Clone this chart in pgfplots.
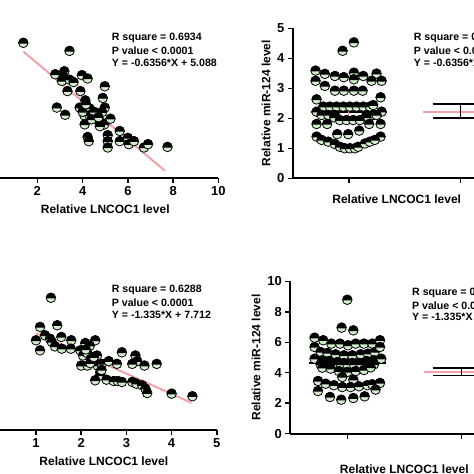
\documentclass[border=0pt]{standalone}
\usepackage{pgfplots}
\pgfplotsset{compat=1.18}
\usepackage{fontspec}
\setmainfont{Liberation Sans}
\definecolor{mkgreen}{HTML}{D2EDCC}
\definecolor{regpink}{HTML}{F2A3AA}
\pgfdeclareplotmark{hb}{%
  \pgfpathcircle{\pgfpointorigin}{\pgfplotmarksize}%
  \pgfsetfillcolor{mkgreen}\pgfusepath{fill}%
  \pgfpathmoveto{\pgfpoint{-\pgfplotmarksize}{-0.15\pgfplotmarksize}}%
  \pgfpatharc{190}{-10}{\pgfplotmarksize}%
  \pgfpathclose
  \pgfsetfillcolor{black}\pgfusepath{fill}%
  \pgfsetlinewidth{0.8pt}%
  \pgfpathcircle{\pgfpointorigin}{\pgfplotmarksize}%
  \pgfusepath{stroke}%
}
\pgfplotsset{
  panel/.style={
    scale only axis, enlargelimits=false, clip=false,
    axis x line*=bottom, axis y line*=left,
    axis line style={line width=1.7pt, black},
    tick style={line width=1.5pt, black},
    tick align=outside, major tick length=5pt,
    minor tick num=0,
    ticklabel style={font=\fontsize{13}{15}\selectfont\bfseries},
    /pgf/number format/assume math mode=true,
    label style={font=\fontsize{12}{14}\selectfont\bfseries},
  },
  pts/.style={only marks, mark=hb, mark size=4.8pt},
}
\newcommand{\anno}[4]{%
  \node[anchor=west, inner sep=0pt, font=\fontsize{10.6}{12}\selectfont\bfseries] at (#1,#2) {R square = #3};
  \node[anchor=west, inner sep=0pt, font=\fontsize{10.6}{12}\selectfont\bfseries] at (#1,#2-12.3) {P value < 0.0001};
  \node[anchor=west, inner sep=0pt, font=\fontsize{10.6}{12}\selectfont\bfseries] at (#1,#2-24.3) {#4};
}
\begin{document}
\begin{tikzpicture}[x=1pt,y=1pt]
\useasboundingbox (0,0) rectangle (474,474);
\clip (0,0) rectangle (474,474);
\fill[white] (0,0) rectangle (474,474);

% ---------- top left ----------
\begin{axis}[panel, at={(-7.9pt,296.2pt)}, anchor=south west,
  width=226.3pt, height=150pt, xmin=0, xmax=10, ymin=0, ymax=5,
  xtick={0,2,4,6,8,10}, ytick={0,1,2,3,4,5},
  xlabel={Relative LNCOC1 level}, xlabel style={yshift=-2pt}]
\addplot[regpink, line width=2pt] coordinates {(1.38,4.211) (7.64,0.232)};
\addplot[pts] coordinates {
(1.38,4.5) (3.42,4.23) (2.79,3.45) (3.19,3.55) (3.16,3.38) (3.08,3.23) (3.42,3.27)
(3.6,3.19) (3.97,3.42) (4.22,3.31) (4.98,3.05) (3.33,2.89) (3.9,2.89) (4.89,2.66)
(4.12,2.58) (2.86,2.34) (3.23,2.1) (3.87,2.34) (4.16,2.38) (4.31,2.31) (4.08,2.08)
(4.31,2.08) (4.98,2.34) (4.86,2.19) (4.56,1.97) (4.79,1.86) (4.96,1.78) (5.23,1.97)
(4.09,1.78) (4.76,1.72) (4.22,1.36) (4.27,1.22) (5.11,1.42) (5.11,1.22) (5.11,1.01)
(5.64,1.56) (5.64,1.22) (6.0,1.33) (6.04,1.12) (6.27,1.22) (6.71,1.01) (6.89,1.12)
(7.75,1.03) (4.5,2.2) (4.4,1.95) (4.7,2.02) (4.0,2.2) (4.15,2.45)
};
\end{axis}
\anno{111.7}{435.7}{0.6934}{Y = -0.6356*X + 5.088}

% ---------- top right ----------
\begin{axis}[panel, at={(293pt,295.7pt)}, anchor=south west,
  width=223.4pt, height=150pt, xmin=0.5, xmax=2.5, ymin=0, ymax=5,
  xtick={1,2}, xticklabels={}, ytick={0,1,2,3,4,5},
  xlabel={Relative LNCOC1 level}, xlabel style={yshift=-1pt, xshift=-8pt},
  ylabel={Relative miR-124 level}, ylabel style={yshift=0pt}]
\addplot[pts] coordinates {
(1.045,4.53) (0.944,4.25) (0.702,3.59) (0.702,3.25) (0.785,3.48) (0.875,3.41)
(0.955,3.37) (1.045,3.52) (1.045,3.30) (1.129,3.41) (1.248,3.49) (1.203,3.25)
(1.293,3.25) (0.785,3.08) (0.875,2.92) (0.955,2.92) (1.045,2.92) (1.123,2.92)
(0.711,2.63) (1.284,2.70)
(0.771,2.39) (0.830,2.39) (0.890,2.39) (0.950,2.39) (1.009,2.39) (1.069,2.39) (1.129,2.39) (1.188,2.39)
(1.218,2.44) (0.711,2.22) (1.293,2.22)
(0.756,2.11) (0.816,2.11) (0.875,2.11) (1.158,2.11) (1.218,2.11) (1.248,2.11)
(0.869,2.03) (1.158,2.03)
(0.920,1.94) (0.979,1.94) (1.039,1.94) (1.098,1.94)
(0.711,1.81) (0.806,1.81) (1.182,1.81) (1.284,1.81)
(0.896,1.47) (0.994,1.47) (1.093,1.59)
(0.711,1.39) (1.284,1.39)
(0.756,1.28) (0.816,1.22) (0.875,1.14) (0.920,1.05) (0.964,1.0) (1.009,1.0)
(1.054,1.0) (1.084,1.05) (1.144,1.16) (1.188,1.22) (1.233,1.28)
};
\addplot[black, line width=1.8pt] coordinates {(0.657,2.2) (1.338,2.2)};
\addplot[regpink, line width=1pt] coordinates {(1,2.07) (1,2.3)};
\addplot[regpink, line width=2pt] coordinates {(1.666,2.22) (2.5,2.22)};
\addplot[black, line width=1.6pt] coordinates {(1.75,2.48) (2.25,2.48)};
\addplot[black, line width=1.6pt] coordinates {(1.75,2.0) (2.25,2.0)};
\addplot[black, line width=1.6pt] coordinates {(2,2.0) (2,2.48)};
\end{axis}
\anno{413.7}{435.7}{0.6934}{Y = -0.6356*X + 5.088}

% ---------- bottom left ----------
\begin{axis}[panel, at={(-9.2pt,44pt)}, anchor=south west,
  width=226pt, height=152pt, xmin=0, xmax=5, ymin=0, ymax=10,
  xtick={0,1,2,3,4,5}, ytick={0,2,4,6,8,10},
  xlabel={Relative LNCOC1 level}, xlabel style={yshift=-2pt}]
\addplot[regpink, line width=2pt] coordinates {(1.0,6.377) (4.44,1.785)};
\addplot[pts] coordinates {
(1.33,8.70) (1.09,6.78) (1.47,6.89) (1.0,5.90) (1.2,6.23) (1.31,6.0) (1.56,6.12)
(1.35,5.79) (1.42,5.5) (1.57,5.35) (1.78,5.9) (1.77,5.35) (1.09,5.24) (2.09,5.72)
(2.31,5.9) (2.19,5.55) (1.98,5.24) (2.04,4.9) (2.14,5.05) (2.35,4.9) (2.21,4.68)
(2.0,4.24) (2.14,4.24) (2.36,4.24) (2.46,4.35) (2.61,4.53) (2.79,4.35) (2.9,5.11)
(3.2,4.9) (3.24,4.53) (3.13,4.35) (3.4,4.24) (3.67,4.35) (2.42,3.8) (2.42,3.59)
(2.31,3.27) (2.56,3.31) (2.72,3.22) (2.81,3.22) (2.9,3.16) (3.13,3.16) (3.22,3.05)
(3.35,2.94) (3.42,2.72) (3.46,2.43) (4.0,2.39) (4.46,2.22) (2.2,4.4) (2.28,4.8)
(2.1,5.3) (2.45,3.95)
};
\end{axis}
\anno{111.7}{183.7}{0.6288}{Y = -1.335*X + 7.712}

% ---------- bottom right ----------
\begin{axis}[panel, at={(290.3pt,40.3pt)}, anchor=south west,
  width=228pt, height=152.4pt, xmin=0.5, xmax=2.5, ymin=0, ymax=10,
  xtick={1,2}, xticklabels={}, ytick={0,2,4,6,8,10},
  xlabel={Relative LNCOC1 level}, xlabel style={yshift=-16pt},
  ylabel={Relative miR-124 level}, ylabel style={yshift=0pt}]
\addplot[pts] coordinates {
(1.0,8.79) (0.95,6.96) (1.053,6.78)
(0.713,6.30) (0.789,6.13) (0.860,5.91) (0.936,5.91) (1.006,5.80) (1.073,5.91)
(1.146,5.91) (1.219,5.91) (1.287,6.13)
(0.713,5.69) (0.766,5.36) (0.825,5.30) (0.897,5.21) (0.971,5.14) (1.044,5.14)
(1.117,5.21) (1.181,5.25) (1.240,5.36) (1.287,5.69)
(0.713,4.92) (0.781,4.82) (0.839,4.77) (0.912,4.70) (0.971,4.64) (1.044,4.64)
(1.102,4.64) (1.170,4.77) (1.234,4.82) (1.298,4.92)
(0.766,4.55) (0.825,4.55) (0.883,4.55) (0.942,4.55) (1.0,4.55) (1.058,4.55)
(1.117,4.55) (1.175,4.55) (1.234,4.55)
(0.781,4.33) (0.854,4.27) (0.927,4.11) (1.0,4.05) (1.073,4.11) (1.146,4.18) (1.205,4.35)
(0.956,3.72) (1.053,3.54)
(0.743,3.46) (0.810,3.28) (0.883,3.18) (0.956,3.06) (1.029,3.06) (1.102,3.11)
(1.175,3.18) (1.219,3.24) (1.287,3.33)
(0.743,2.80) (1.248,2.89)
(0.848,2.41) (0.947,2.23) (1.053,2.34) (1.152,2.45)
};
\addplot[black, line width=1.8pt] coordinates {(0.664,4.64) (1.336,4.64)};
\addplot[regpink, line width=2pt] coordinates {(0.912,4.9) (1.158,4.9)};
\addplot[regpink, line width=2pt] coordinates {(1.673,4.05) (2.5,4.05)};
\addplot[black, line width=1.6pt] coordinates {(1.75,4.33) (2.25,4.33)};
\addplot[black, line width=1.6pt] coordinates {(1.75,3.83) (2.25,3.83)};
\addplot[black, line width=1.6pt] coordinates {(2,3.83) (2,4.33)};
\end{axis}
\anno{412}{181}{0.6288}{Y = -1.335*X + 7.712}
\end{tikzpicture}
\end{document}
